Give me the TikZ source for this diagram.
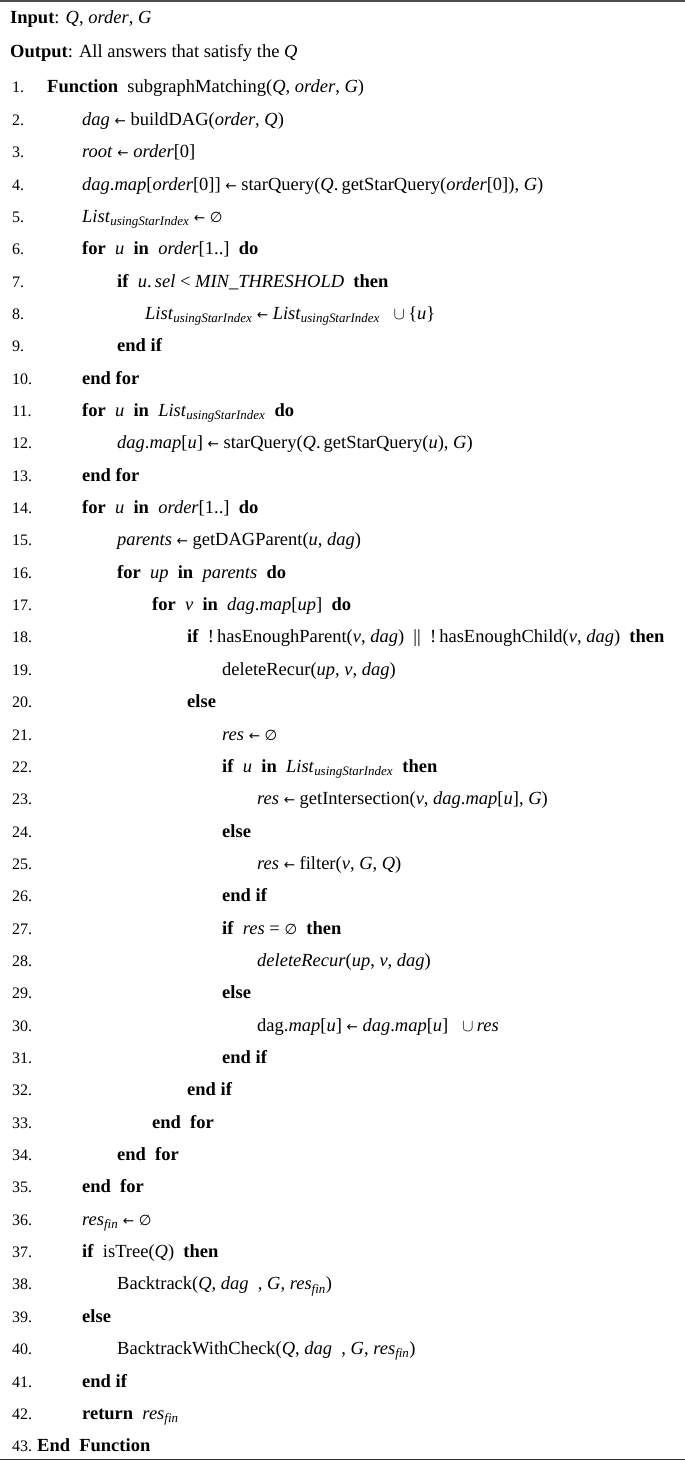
\documentclass[tikz,border=0pt]{standalone}
\usepackage{fontspec}
\setmainfont{Liberation Serif}
\newfontfamily\symf{DejaVu Sans}
\newcommand{\I}[1]{\textit{#1}}
\newcommand{\Sb}[1]{\textsubscript{\textit{#1}}}
\newcommand{\la}{{\symf\fontsize{13.5bp}{15bp}\selectfont ←}}
\newcommand{\es}{{\symf\fontsize{14.5bp}{15bp}\selectfont ∅}}
\newcommand{\B}[1]{\textbf{#1}}
\newcommand{\LS}{\I{List}\Sb{usingStarIndex}}
\begin{document}
\begin{tikzpicture}[x=1bp,y=-1bp,
  txt/.style={anchor=base west,inner sep=0pt,font=\fontsize{18.5bp}{21bp}\selectfont},
  num/.style={anchor=base west,inner sep=0pt,font=\fontsize{16bp}{20bp}\selectfont}]
\useasboundingbox (0,0) rectangle (685,1461);
\draw[line width=1.2bp,gray!60!black] (0,1) -- (685,1);
\draw[line width=1.5bp,gray!40!black] (0,1459.5) -- (685,1459.5);
\node[txt] (in) at (10,24) {\B{Input}: \I{Q}, \I{order}, \I{G}};
\node[txt] (out) at (10,58) {\B{Output}: All answers that satisfy the \I{Q}};
\foreach \n/\ind/\t in {
1/0/{\B{Function}~~subgraphMatching(\I{Q}, \I{order}, \I{G})},
2/1/{\I{dag} \la\ buildDAG(\I{order}, \I{Q})},
3/1/{\I{root} \la\ \I{order}[0]},
4/1/{\I{dag}.\I{map}[\I{order}[0]] \la\ starQuery(\I{Q}.\,getStarQuery(\I{order}[0]), \I{G})},
5/1/{\LS\ \la\ \es},
6/1/{\B{for}~~\I{u}~~\B{in}~~\I{order}[1..]~~\B{do}},
7/2/{\B{if}~~\I{u}.\,\I{sel} < \I{MIN\_THRESHOLD}~~\B{then}},
8/3/{\hspace{-7bp}\LS\ \la\ \LS~~~$\cup$\,\{\I{u}\}},
9/2/{\B{end if}},
10/1/{\B{end for}},
11/1/{\B{for}~~\I{u}~~\B{in}~~\LS~~\B{do}},
12/2/{\I{dag}.\I{map}[\I{u}] \la\ starQuery(\I{Q}.\,getStarQuery(\I{u}), \I{G})},
13/1/{\B{end for}},
14/1/{\B{for}~~\I{u}~~\B{in}~~\I{order}[1..]~~\B{do}},
15/2/{\I{parents} \la\ getDAGParent(\I{u}, \I{dag})},
16/2/{\B{for}~~\I{up}~~\B{in}~~\I{parents}~~\B{do}},
17/3/{\B{for}~~\I{v}~~\B{in}~~\I{dag}.\I{map}[\I{up}]~~\B{do}},
18/4/{\B{if}~~!\,hasEnoughParent(\I{v}, \I{dag})~~||~~!\,hasEnoughChild(\I{v}, \I{dag})~~\B{then}},
19/5/{deleteRecur(\I{up}, \I{v}, \I{dag})},
20/4/{\B{else}},
21/5/{\I{res} \la\ \es},
22/5/{\B{if}~~\I{u}~~\B{in}~~\LS~~\B{then}},
23/6/{\I{res} \la\ getIntersection(\I{v}, \I{dag}.\I{map}[\I{u}], \I{G})},
24/5/{\B{else}},
25/6/{\I{res} \la\ filter(\I{v}, \I{G}, \I{Q})},
26/5/{\B{end if}},
27/5/{\B{if}~~\I{res} = \es~~\B{then}},
28/6/{\I{deleteRecur}(\I{up}, \I{v}, \I{dag})},
29/5/{\B{else}},
30/6/{dag.\I{map}[\I{u}] \la\ \I{dag}.\I{map}[\I{u}]~~~$\cup$\,\I{res}},
31/5/{\B{end if}},
32/4/{\B{end if}},
33/3/{\B{end~~for}},
34/2/{\B{end~~for}},
35/1/{\B{end~~for}},
36/1/{\I{res}\Sb{fin} \la\ \es},
37/1/{\B{if}~~isTree(\I{Q})~~\B{then}},
38/2/{Backtrack(\I{Q}, \I{dag}~~, \I{G}, \I{res}\Sb{fin})},
39/1/{\B{else}},
40/2/{BacktrackWithCheck(\I{Q}, \I{dag}~~, \I{G}, \I{res}\Sb{fin})},
41/1/{\B{end if}},
42/1/{\B{return}~~\I{res}\Sb{fin}}}
{
  \node[num] (n\n) at (12,{93+(\n-1)*32.35}) {\n.};
  \node[txt] (l\n) at ({47+\ind*35},{93+(\n-1)*32.35}) {\t};
}
\node[num] (n43) at (12,{93+42*32.35}) {43.};
\node[txt] (l43) at (37,{93+42*32.35}) {\B{End~~Function}};
\end{tikzpicture}
\end{document}
